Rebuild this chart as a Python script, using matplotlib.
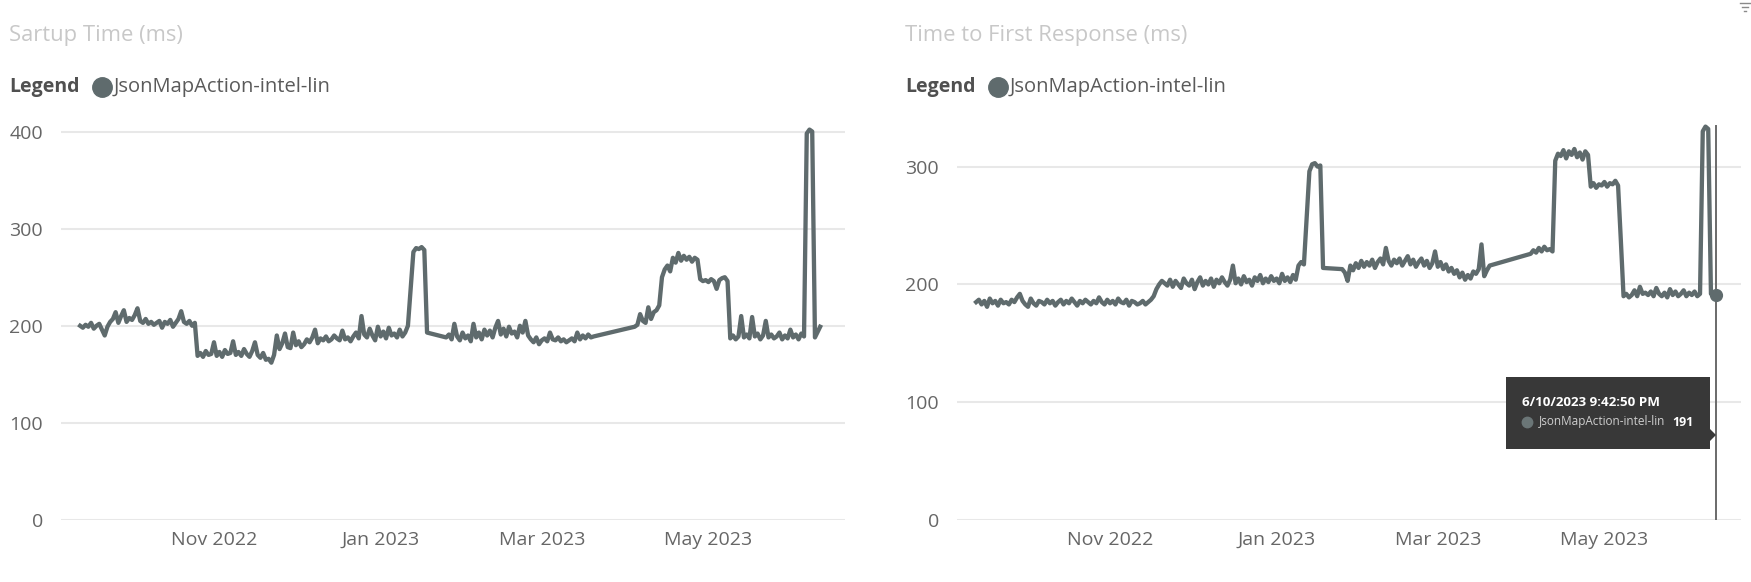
import numpy as np
import pandas as pd
import matplotlib
matplotlib.use('Agg')
import matplotlib.pyplot as plt
import matplotlib.dates as mdates
from matplotlib.lines import Line2D
from matplotlib.patches import Rectangle, Polygon

plt.rcParams['font.family'] = ['Open Sans', 'DejaVu Sans']

W, H = 1751, 582

# run dates as day offsets from the first run (2022-09-13)
start = pd.Timestamp('2022-09-13')
day = [0, 1, 2, 3, 4, 5, 6, 7, 8, 9, 10, 11, 12, 13, 14, 15, 16, 17, 18, 19,
       20, 21, 22, 23, 24, 25, 26, 27, 28, 29, 30, 31, 32, 33, 34, 35, 36, 37, 38, 39,
       40, 41, 42, 43, 44, 45, 46, 47, 48, 49, 50, 51, 52, 53, 54, 55, 56, 57, 58, 59,
       60, 61, 62, 63, 64, 65, 66, 67, 68, 69, 70, 71, 72, 73, 74, 75, 76, 77, 78, 79,
       80, 81, 82, 83, 84, 85, 86, 87, 88, 89, 90, 91, 92, 93, 94, 95, 96, 97, 98, 99,
       100, 101, 102, 103, 104, 105, 106, 107, 108, 109, 110, 111, 112, 113, 114, 115, 116, 117, 118, 119, 120,
       122, 123, 124, 125, 126, 127,
       134, 135, 136, 137, 138, 139, 140, 141, 142, 143, 144, 145, 146, 147, 148, 149,
       150, 151, 152, 153, 154, 155, 156, 157, 158, 159, 160, 161, 162, 163, 164, 165, 166, 167, 168, 169,
       170, 171, 172, 173, 174, 175, 176, 177, 178, 179, 180, 181, 182, 183, 184, 185, 186, 187, 188,
       203, 204, 205, 206, 207, 208, 209, 210, 211, 212, 213, 214, 215, 216, 217, 218, 219,
       220, 221, 222, 223, 224, 225, 226, 227, 228, 229, 230, 231, 232, 233, 234, 235, 236, 237, 238, 239,
       240, 241, 242, 243, 244, 245, 246, 247, 248, 249, 250, 251, 252, 253, 254, 255, 256, 257, 258, 259,
       260, 261, 262, 263, 264, 265, 266, 267, 268, 269, 270.905]

startup_ms = [200, 198, 201, 199, 203, 197, 200, 202, 196, 190,
              199, 204, 207, 214, 203, 210, 216, 204, 208, 206,
              211, 218, 205, 203, 207, 202, 204, 201, 203, 205,
              198, 204, 202, 206, 199, 203, 207, 215, 204, 202,
              205, 200, 203, 169, 172, 168, 174, 170, 171, 183,
              169, 173, 168, 175, 171, 172, 184, 170, 173, 169,
              176, 171, 168, 174, 183, 170, 167, 172, 165, 166,
              162, 170, 190, 176, 182, 192, 178, 177, 193, 180,
              184, 178, 181, 186, 183, 188, 196, 182, 187, 185,
              189, 184, 186, 190, 187, 185, 195, 186, 188, 184,
              189, 193, 187, 210, 191, 188, 197, 190, 185, 199,
              189, 194, 187, 198, 190, 192, 188, 196, 189, 193, 200,
              276, 280, 279, 281, 278, 193,
              188, 191, 186, 202, 189, 185, 193, 187, 190, 184,
              202, 188, 193, 186, 196, 190, 195, 188, 198, 205,
              191, 197, 189, 199, 192, 194, 188, 200, 193, 205,
              190, 186, 183, 188, 181, 185, 187, 184, 193, 186,
              185, 188, 184, 186, 183, 185, 187, 184, 193, 186,
              190, 187, 191, 188, 189,
              199, 201, 212, 205, 203, 219, 207, 214, 216,
              221, 250, 258, 262, 256, 270, 265, 275, 267, 272, 268, 271, 266,
              270, 268, 248, 246, 247, 245, 248, 246, 238, 247, 249, 250,
              246, 187, 190, 186, 189, 210, 188, 191, 187, 209, 189,
              192, 186, 190, 205, 188, 191, 187, 189, 193, 186,
              190, 187, 196, 188, 191, 186, 192, 189,
              398, 402, 400, 188, 199]

first_resp_ms = [185, 187, 183, 186, 181, 188, 184, 186, 182, 187,
                 184, 185, 183, 187, 185, 189, 192, 186, 183, 181,
                 188, 184, 182, 186, 185, 183, 187, 184, 186, 182,
                 185, 187, 183, 186, 184, 188, 185, 182, 186, 184,
                 187, 185, 183, 186, 184, 189, 185, 183, 187, 184,
                 186, 183, 188, 185, 184, 187, 182, 186, 185, 183,
                 184, 186, 183, 185, 187, 190, 196, 200, 203, 201,
                 199, 204, 198, 203, 200, 197, 205, 201, 199, 204,
                 196, 202, 206, 199, 203, 200, 205, 198, 204, 201,
                 206, 202, 199, 204, 216, 201, 205, 200, 207, 202,
                 204, 199, 206, 203, 208, 201, 205, 202, 207, 203,
                 205, 201, 209, 203, 206, 202, 208, 204, 216, 219, 217,
                 296, 302, 303, 300, 301, 214,
                 213, 210, 203, 216, 212, 218, 214, 220, 215, 219,
                 216, 221, 214, 219, 222, 217, 231, 220, 216, 221,
                 218, 222, 216, 220, 224, 217, 221, 215, 219, 222,
                 216, 220, 214, 218, 228, 215, 219, 213, 217, 211,
                 214, 209, 212, 206, 210, 204, 208, 205, 211, 209,
                 213, 234, 207, 212, 216,
                 226, 229, 227, 231, 228, 232, 229, 230, 228,
                 305, 311, 309, 314, 307, 313, 310, 315, 308, 312, 306, 313, 310,
                 283, 286, 282, 285, 284, 287, 283, 286, 285, 288, 284, 238,
                 190, 192, 189, 191, 195, 190, 198, 192, 193, 191, 194,
                 190, 197, 192, 190, 193, 189, 196, 191, 194, 190,
                 192, 195, 190, 193, 191, 194, 190, 192,
                 330, 334, 332, 192, 191]

series_name = 'JsonMapAction-intel-lin'
titles = ['Sartup Time (ms)', 'Time to First Response (ms)']
month_ticks = ['2022-11-01', '2023-01-01', '2023-03-01', '2023-05-01']
y_ticks = [[0, 100, 200, 300, 400], [0, 100, 200, 300]]
y_tops = [416, 343]
hover_time = '6/10/2023 9:42:50 PM'

dates = start + pd.to_timedelta(day, unit='D')
series = [startup_ms, first_resp_ms]

line_col = '#5f6b6d'
grid_col = '#e8e8e8'
tick_col = '#666666'


def fx(x):
    return x / W


def fy(y):
    return 1 - y / H


fig = plt.figure(figsize=(W / 100, H / 100), dpi=100)
fig.patch.set_facecolor('white')

axes = []
for i in range(2):
    off = 896 * i
    ax = fig.add_axes([fx(61 + off), fy(520), 784 / W, 404 / H])
    ax.plot(dates, series[i], color=line_col, lw=3.1, solid_joinstyle='round', zorder=3)
    ax.set_ylim(0, y_tops[i])
    ax.set_xlim(pd.Timestamp('2022-09-06'), pd.Timestamp('2023-06-20'))
    ax.set_yticks(y_ticks[i])
    ax.set_xticks(pd.to_datetime(month_ticks))
    ax.xaxis.set_major_formatter(mdates.DateFormatter('%b %Y'))
    ax.grid(axis='y', color=grid_col, lw=1.5)
    ax.set_axisbelow(True)
    for s in ax.spines.values():
        s.set_visible(False)
    ax.tick_params(axis='both', length=0, labelsize=14, labelcolor=tick_col)
    ax.tick_params(axis='y', pad=13)
    ax.tick_params(axis='x', pad=8)

    # title and legend
    fig.text(fx(9 + off), fy(36), titles[i], fontsize=15.8, color='#c8c8c8', va='center', ha='left')
    fig.text(fx(9 + off), fy(87), 'Legend', fontsize=14, color='#505050', fontweight='bold',
             va='center', ha='left')
    fig.add_artist(Line2D([fx(102 + off)], [fy(87)], marker='o', markersize=14, color=line_col,
                          transform=fig.transFigure))
    fig.text(fx(114 + off), fy(87), series_name, fontsize=14.5, color='#5a5a5a', va='center', ha='left')
    axes.append(ax)

# hover line and point on the right chart
ax2 = axes[1]
ax2.axvline(dates[-1], 0, 0.975, color='#6a6a6a', lw=1.4, zorder=4)
ax2.plot([dates[-1]], [first_resp_ms[-1]], 'o', color=line_col, ms=8.5, zorder=5)

# tooltip
fig.add_artist(Rectangle((fx(1506), fy(449)), 204 / W, 72 / H, transform=fig.transFigure,
                         facecolor='#383838', edgecolor='none', zorder=10))
fig.add_artist(Polygon([[fx(1710), fy(429)], [fx(1716), fy(435)], [fx(1710), fy(441)]],
                       closed=True, transform=fig.transFigure, facecolor='#383838',
                       edgecolor='none', zorder=10))
fig.text(fx(1522), fy(402), hover_time, fontsize=9.6, color='white', fontweight='bold',
         va='center', ha='left', zorder=11)
fig.add_artist(Line2D([fx(1527)], [fy(422)], marker='o', markersize=7.5, color='#6b7677',
                      transform=fig.transFigure, zorder=11))
fig.text(fx(1539), fy(422), series_name, fontsize=8.5, color='#cfcfcf', va='center', ha='left',
         zorder=11)
fig.text(fx(1694), fy(422), str(first_resp_ms[-1]), fontsize=9, color='white', fontweight='bold',
         va='center', ha='right', zorder=11)

# filter icon at the top right
for y0, x0, x1 in [(3, 1740, 1750), (7, 1742, 1748), (11, 1744, 1746)]:
    fig.add_artist(Line2D([fx(x0), fx(x1)], [fy(y0), fy(y0)], color='#8a8a8a', lw=1,
                          transform=fig.transFigure))

fig.savefig('out.png', dpi=100)
